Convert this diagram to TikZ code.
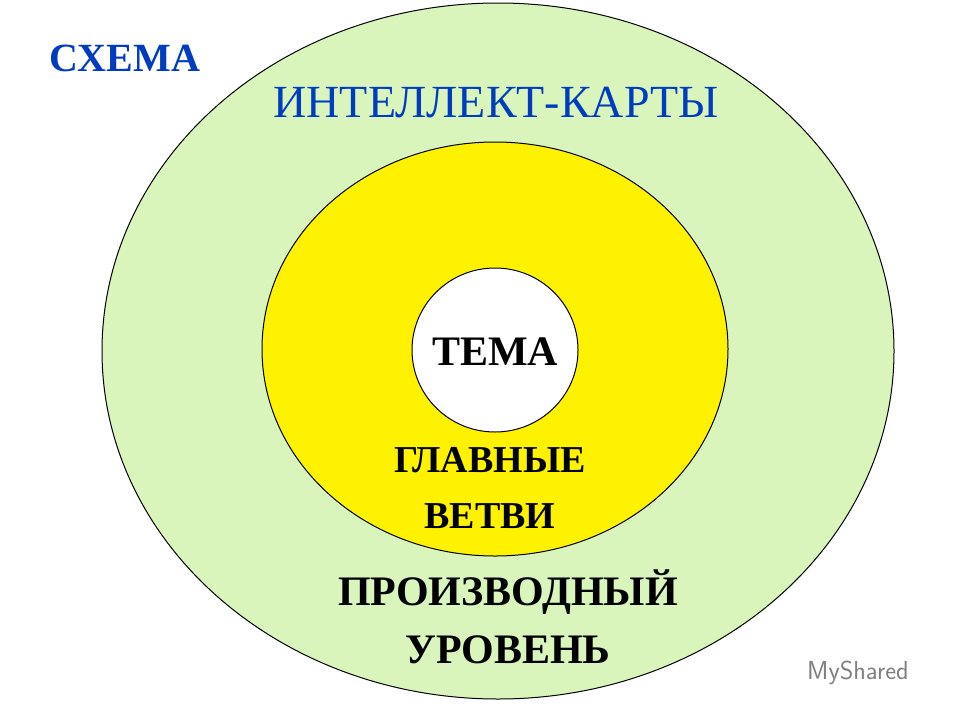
\documentclass[tikz,border=0pt]{standalone}
\usepackage{fontspec}
\setmainfont{Liberation Serif}
\begin{document}
\begin{tikzpicture}[x=1pt,y=-1pt,
  ring/.style={draw=black,line width=1pt},
  blue txt/.style={text={rgb,255:red,0;green,60;blue,190},font=\fontsize{40}{44}\selectfont},
  big/.style={font=\bfseries\fontsize{42}{50}\selectfont,align=center}]
\useasboundingbox (0,0) rectangle (960,720);
\fill[white] (0,0) rectangle (960,720);
\path[ring,fill={rgb,255:red,217;green,245;blue,188}] (498,351) ellipse [x radius=396,y radius=348];
\path[ring,fill=yellow] (495,349) ellipse [x radius=233,y radius=207];
\path[ring,fill=white] (495,350) ellipse [x radius=83,y radius=82];
\node[blue txt,font=\bfseries\fontsize{40}{44}\selectfont] (schema) at (125,58) {СХЕМА};
\node[blue txt,font=\fontsize{46}{44}\selectfont] (ik) at (496,103) {ИНТЕЛЛЕКТ-КАРТЫ};
\node[big] (tema) at (495,352) {ТЕМА};
\node[big,font=\bfseries\fontsize{38}{56}\selectfont] (gv) at (490,488) {ГЛАВНЫЕ\\ВЕТВИ};
\node[big,font=\bfseries\fontsize{42}{58}\selectfont] (pu) at (508,617) {ПРОИЗВОДНЫЙ\\УРОВЕНЬ};
\node[text=gray,font=\sffamily\fontsize{26}{30}\selectfont] (ms) at (858,673) {MyShared};
\end{tikzpicture}
\end{document}
